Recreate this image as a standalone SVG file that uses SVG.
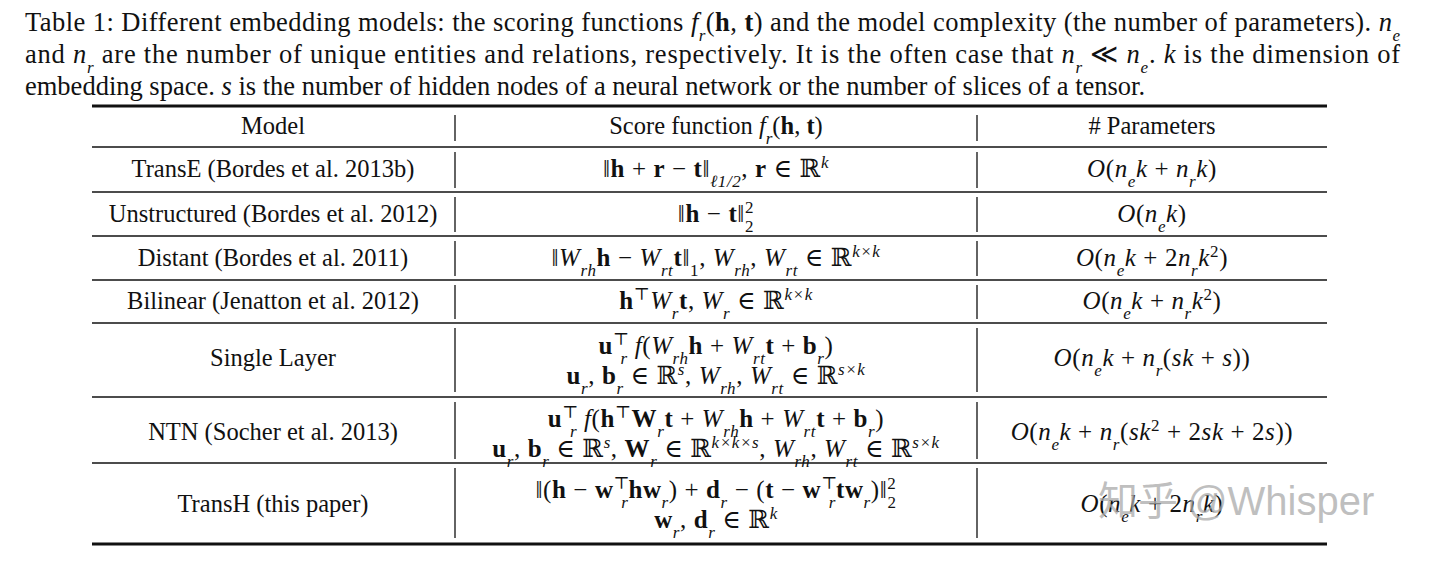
<svg xmlns="http://www.w3.org/2000/svg" width="1435" height="565" viewBox="0 0 1435 565">
<style>
text{font-family:"Liberation Serif","DejaVu Serif",serif;font-size:24.5px;fill:#111}
.cap{font-size:26.5px}
.c{text-anchor:middle}
.m{font-size:25px;letter-spacing:0.6px}
.i{font-style:italic}
.b{font-weight:bold}
.s{font-size:17px;baseline-shift:sub}
.p{font-size:17px;baseline-shift:super}
.r{stroke:#111;stroke-width:1.3}
.k{stroke:#111;stroke-width:3}
.v{stroke:#111;stroke-width:1.3}
.wm{font-family:"Noto Sans CJK SC","Liberation Sans",sans-serif;font-size:40px;fill:#aaa;fill-opacity:0.75}
</style>
<rect width="1435" height="565" fill="#fff"/>
<text class="cap" x="25" y="31" textLength="1375" lengthAdjust="spacing">Table 1: Different embedding models: the scoring functions <tspan class="i">f</tspan><tspan class="i s">r</tspan>(<tspan class="b">h</tspan>, <tspan class="b">t</tspan>) and the model complexity (the number of parameters). <tspan class="i">n</tspan><tspan class="i s">e</tspan></text>
<text class="cap" x="25" y="63" textLength="1375" lengthAdjust="spacing">and <tspan class="i">n</tspan><tspan class="i s">r</tspan> are the number of unique entities and relations, respectively. It is the often case that <tspan class="i">n</tspan><tspan class="i s">r</tspan> ≪ <tspan class="i">n</tspan><tspan class="i s">e</tspan>. <tspan class="i">k</tspan> is the dimension of</text>
<text class="cap" x="25" y="95">embedding space. <tspan class="i">s</tspan> is the number of hidden nodes of a neural network or the number of slices of a tensor.</text>
<g id="rules">
<line class="k" x1="92" y1="106" x2="1327" y2="106"/>
<line class="r" x1="92" y1="147" x2="1327" y2="147"/>
<line class="r" x1="92" y1="192" x2="1327" y2="192"/>
<line class="r" x1="92" y1="236" x2="1327" y2="236"/>
<line class="r" x1="92" y1="280" x2="1327" y2="280"/>
<line class="r" x1="92" y1="323" x2="1327" y2="323"/>
<line class="r" x1="92" y1="397" x2="1327" y2="397"/>
<line class="r" x1="92" y1="463" x2="1327" y2="463"/>
<line class="k" x1="92" y1="544" x2="1327" y2="544"/>
</g>
<g id="vlines">
<path class="v" d="M455 115V141M977 115V141M455 152V188M977 152V188M455 197V232M977 197V232M455 241V276M977 241V276M455 285V319M977 285V319M455 328V392M977 328V392M455 402V459M977 402V459M455 468V538M977 468V538"/>
</g>
<g id="header">
<text class="c" x="273" y="134">Model</text>
<text class="c" x="716" y="134">Score function <tspan class="i">f</tspan><tspan class="i s">r</tspan>(<tspan class="b">h</tspan>, <tspan class="b">t</tspan>)</text>
<text class="c" x="1152" y="134"># Parameters</text>
</g>
<g id="row-transe">
<text class="c" x="273" y="177">TransE (Bordes et al. 2013b)</text>
<text class="c m" x="716" y="177">‖<tspan class="b">h</tspan> + <tspan class="b">r</tspan> − <tspan class="b">t</tspan>‖<tspan class="i s">ℓ1/2</tspan>, <tspan class="b">r</tspan> ∈ ℝ<tspan class="i p">k</tspan></text>
<text class="c m" x="1152" y="177"><tspan class="i">O</tspan>(<tspan class="i">n</tspan><tspan class="i s">e</tspan><tspan class="i">k</tspan> + <tspan class="i">n</tspan><tspan class="i s">r</tspan><tspan class="i">k</tspan>)</text>
</g>
<g id="row-unstructured">
<text class="c" x="273" y="222">Unstructured (Bordes et al. 2012)</text>
<text class="c m" x="716" y="222">‖<tspan class="b">h</tspan> − <tspan class="b">t</tspan>‖<tspan class="p">2</tspan><tspan dx="-9" class="s">2</tspan></text>
<text class="c m" x="1152" y="222"><tspan class="i">O</tspan>(<tspan class="i">n</tspan><tspan class="i s">e</tspan><tspan class="i">k</tspan>)</text>
</g>
<g id="row-distant">
<text class="c" x="273" y="266">Distant (Bordes et al. 2011)</text>
<text class="c m" x="716" y="266">‖<tspan class="i">W</tspan><tspan class="i s">rh</tspan><tspan class="b">h</tspan> − <tspan class="i">W</tspan><tspan class="i s">rt</tspan><tspan class="b">t</tspan>‖<tspan class="s">1</tspan>, <tspan class="i">W</tspan><tspan class="i s">rh</tspan>, <tspan class="i">W</tspan><tspan class="i s">rt</tspan> ∈ ℝ<tspan class="i p">k×k</tspan></text>
<text class="c m" x="1152" y="266"><tspan class="i">O</tspan>(<tspan class="i">n</tspan><tspan class="i s">e</tspan><tspan class="i">k</tspan> + 2<tspan class="i">n</tspan><tspan class="i s">r</tspan><tspan class="i">k</tspan><tspan class="p">2</tspan>)</text>
</g>
<g id="row-bilinear">
<text class="c" x="273" y="309">Bilinear (Jenatton et al. 2012)</text>
<text class="c m" x="716" y="309"><tspan class="b">h</tspan><tspan class="p">⊤</tspan><tspan class="i">W</tspan><tspan class="i s">r</tspan><tspan class="b">t</tspan>, <tspan class="i">W</tspan><tspan class="i s">r</tspan> ∈ ℝ<tspan class="i p">k×k</tspan></text>
<text class="c m" x="1152" y="309"><tspan class="i">O</tspan>(<tspan class="i">n</tspan><tspan class="i s">e</tspan><tspan class="i">k</tspan> + <tspan class="i">n</tspan><tspan class="i s">r</tspan><tspan class="i">k</tspan><tspan class="p">2</tspan>)</text>
</g>
<g id="row-single">
<text class="c" x="273" y="366">Single Layer</text>
<text class="c m" x="716" y="354"><tspan class="b">u</tspan><tspan class="p">⊤</tspan><tspan dx="-9" class="i s">r</tspan> <tspan class="i">f</tspan>(<tspan class="i">W</tspan><tspan class="i s">rh</tspan><tspan class="b">h</tspan> + <tspan class="i">W</tspan><tspan class="i s">rt</tspan><tspan class="b">t</tspan> + <tspan class="b">b</tspan><tspan class="i s">r</tspan>)</text>
<text class="c m" x="716" y="384"><tspan class="b">u</tspan><tspan class="i s">r</tspan>, <tspan class="b">b</tspan><tspan class="i s">r</tspan> ∈ ℝ<tspan class="i p">s</tspan>, <tspan class="i">W</tspan><tspan class="i s">rh</tspan>, <tspan class="i">W</tspan><tspan class="i s">rt</tspan> ∈ ℝ<tspan class="i p">s×k</tspan></text>
<text class="c m" x="1152" y="366"><tspan class="i">O</tspan>(<tspan class="i">n</tspan><tspan class="i s">e</tspan><tspan class="i">k</tspan> + <tspan class="i">n</tspan><tspan class="i s">r</tspan>(<tspan class="i">sk</tspan> + <tspan class="i">s</tspan>))</text>
</g>
<g id="row-ntn">
<text class="c" x="273" y="440">NTN (Socher et al. 2013)</text>
<text class="c m" x="716" y="427"><tspan class="b">u</tspan><tspan class="p">⊤</tspan><tspan dx="-9" class="i s">r</tspan> <tspan class="i">f</tspan>(<tspan class="b">h</tspan><tspan class="p">⊤</tspan><tspan class="b">W</tspan><tspan class="i s">r</tspan><tspan class="b">t</tspan> + <tspan class="i">W</tspan><tspan class="i s">rh</tspan><tspan class="b">h</tspan> + <tspan class="i">W</tspan><tspan class="i s">rt</tspan><tspan class="b">t</tspan> + <tspan class="b">b</tspan><tspan class="i s">r</tspan>)</text>
<text class="c m" x="716" y="457"><tspan class="b">u</tspan><tspan class="i s">r</tspan>, <tspan class="b">b</tspan><tspan class="i s">r</tspan> ∈ ℝ<tspan class="i p">s</tspan>, <tspan class="b">W</tspan><tspan class="i s">r</tspan> ∈ ℝ<tspan class="i p">k×k×s</tspan>, <tspan class="i">W</tspan><tspan class="i s">rh</tspan>, <tspan class="i">W</tspan><tspan class="i s">rt</tspan> ∈ ℝ<tspan class="i p">s×k</tspan></text>
<text class="c m" x="1152" y="440"><tspan class="i">O</tspan>(<tspan class="i">n</tspan><tspan class="i s">e</tspan><tspan class="i">k</tspan> + <tspan class="i">n</tspan><tspan class="i s">r</tspan>(<tspan class="i">sk</tspan><tspan class="p">2</tspan> + 2<tspan class="i">sk</tspan> + 2<tspan class="i">s</tspan>))</text>
</g>
<g id="row-transh">
<text class="c" x="273" y="512">TransH (this paper)</text>
<text class="c m" x="716" y="498">‖(<tspan class="b">h</tspan> − <tspan class="b">w</tspan><tspan class="p">⊤</tspan><tspan dx="-9" class="i s">r</tspan><tspan class="b">hw</tspan><tspan class="i s">r</tspan>) + <tspan class="b">d</tspan><tspan class="i s">r</tspan> − (<tspan class="b">t</tspan> − <tspan class="b">w</tspan><tspan class="p">⊤</tspan><tspan dx="-9" class="i s">r</tspan><tspan class="b">tw</tspan><tspan class="i s">r</tspan>)‖<tspan class="p">2</tspan><tspan dx="-9" class="s">2</tspan></text>
<text class="c m" x="716" y="528"><tspan class="b">w</tspan><tspan class="i s">r</tspan>, <tspan class="b">d</tspan><tspan class="i s">r</tspan> ∈ ℝ<tspan class="i p">k</tspan></text>
<text class="c m" x="1152" y="512"><tspan class="i">O</tspan>(<tspan class="i">n</tspan><tspan class="i s">e</tspan><tspan class="i">k</tspan> + 2<tspan class="i">n</tspan><tspan class="i s">r</tspan><tspan class="i">k</tspan>)</text>
</g>
<text class="wm" x="1098" y="515">知乎 <tspan font-family="'Liberation Sans',sans-serif">@Whisper</tspan></text>
</svg>
